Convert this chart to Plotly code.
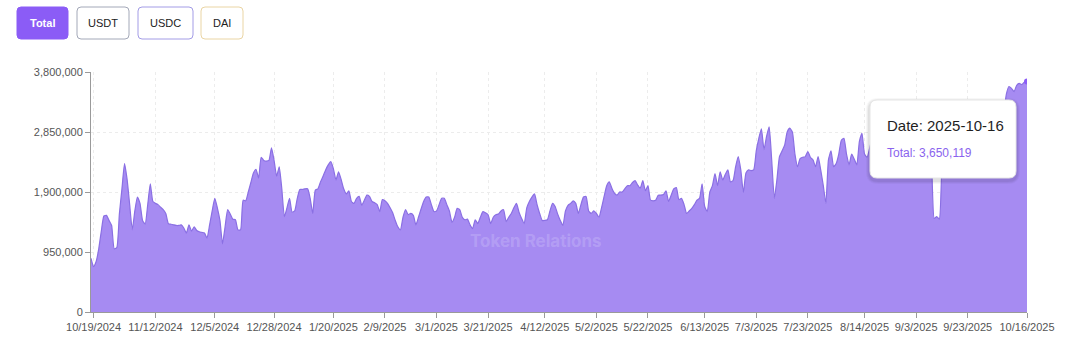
import pandas as pd
import plotly.graph_objects as go

# ---------------- data ----------------
start_date = "2024-10-18"
end_date = "2025-10-16"

total_m = [
    0.85, 0.72, 0.80, 1.00, 1.28, 1.52, 1.53, 1.45, 1.37, 1.00, 1.02, 1.55, 1.95, 2.35, 2.10, 1.70,
    1.30, 1.60, 1.82, 1.72, 1.45, 1.39, 1.70, 2.03, 1.75, 1.72, 1.70, 1.66, 1.62, 1.56, 1.40, 1.39,
    1.38, 1.37, 1.37, 1.38, 1.33, 1.25, 1.38, 1.28, 1.35, 1.29, 1.27, 1.26, 1.25, 1.17, 1.38, 1.60,
    1.80, 1.65, 1.45, 1.08, 1.35, 1.62, 1.55, 1.47, 1.46, 1.30, 1.30, 1.77, 1.76, 1.90, 2.05, 2.20,
    2.26, 2.12, 2.45, 2.40, 2.39, 2.40, 2.60, 2.40, 2.15, 2.30, 1.95, 1.51, 1.65, 1.80, 1.58, 1.60,
    1.80, 1.94, 1.94, 1.95, 1.95, 1.80, 1.56, 1.93, 1.95, 2.06, 2.15, 2.25, 2.33, 2.38, 2.27, 2.09,
    2.22, 2.10, 1.95, 1.87, 1.92, 1.75, 1.72, 1.80, 1.83, 1.69, 1.77, 1.85, 1.83, 1.75, 1.73, 1.70,
    1.59, 1.78, 1.76, 1.72, 1.65, 1.57, 1.45, 1.35, 1.30, 1.50, 1.62, 1.54, 1.56, 1.53, 1.38, 1.50,
    1.63, 1.75, 1.82, 1.82, 1.70, 1.59, 1.60, 1.70, 1.80, 1.80, 1.70, 1.60, 1.42, 1.50, 1.64, 1.62,
    1.50, 1.46, 1.47, 1.38, 1.32, 1.46, 1.40, 1.50, 1.59, 1.57, 1.54, 1.40, 1.50, 1.54, 1.55, 1.60,
    1.62, 1.43, 1.50, 1.56, 1.65, 1.72, 1.58, 1.48, 1.40, 1.65, 1.75, 1.82, 1.87, 1.70, 1.56, 1.45,
    1.45, 1.46, 1.60, 1.72, 1.67, 1.55, 1.45, 1.37, 1.60, 1.69, 1.72, 1.76, 1.72, 1.56, 1.70, 1.82,
    1.83, 1.60, 1.56, 1.60, 1.56, 1.50, 1.65, 1.83, 2.00, 2.06, 1.96, 1.88, 1.85, 1.90, 1.90, 1.95,
    2.00, 2.00, 2.05, 2.08, 2.01, 1.96, 2.08, 1.92, 2.00, 1.77, 1.76, 1.77, 1.85, 1.85, 1.86, 1.92,
    1.75, 1.85, 1.95, 1.97, 1.78, 1.80, 1.70, 1.56, 1.60, 1.64, 1.70, 1.77, 1.80, 2.03, 1.67, 1.59,
    1.90, 2.00, 2.19, 2.00, 2.22, 2.09, 2.18, 2.25, 2.06, 2.08, 2.30, 2.46, 2.25, 1.89, 2.20, 2.25,
    2.24, 2.25, 2.55, 2.75, 2.90, 2.57, 2.78, 2.93, 2.40, 1.80, 2.09, 2.46, 2.55, 2.64, 2.85, 2.91,
    2.85, 2.50, 2.30, 2.43, 2.45, 2.46, 2.54, 2.45, 2.41, 2.30, 2.46, 2.25, 2.00, 1.72, 2.41, 2.55,
    2.30, 2.35, 2.50, 2.72, 2.75, 2.50, 2.33, 2.50, 2.42, 2.33, 2.70, 2.83, 2.50, 2.45, 2.60, 2.75,
    2.55, 2.40, 2.65, 2.80, 2.70, 2.50, 2.60, 2.85, 2.90, 2.70, 2.55, 2.70, 2.80, 2.65, 2.50, 2.70,
    2.85, 2.75, 2.60, 2.70, 2.65, 2.50, 2.30, 1.48, 1.51, 1.47, 2.30, 2.60, 2.75, 2.80, 2.70, 2.85,
    2.95, 2.80, 2.70, 2.90, 3.00, 2.85, 2.75, 2.90, 3.00, 2.95, 2.80, 2.90, 3.05, 3.00, 2.90, 3.05,
    3.10, 3.00, 3.15, 3.45, 3.57, 3.54, 3.49, 3.59, 3.62, 3.60, 3.64, 3.650119,
]

y_ticks = [0, 950000, 1900000, 2850000, 3800000]
x_tick_dates = ["2024-10-19", "2024-11-12", "2024-12-05", "2024-12-28", "2025-01-20", "2025-02-09",
                "2025-03-01", "2025-03-21", "2025-04-12", "2025-05-02", "2025-05-22", "2025-06-13",
                "2025-07-03", "2025-07-23", "2025-08-14", "2025-09-03", "2025-09-23", "2025-10-16"]
buttons = ["Total", "USDT", "USDC", "DAI"]

dates = pd.date_range(start_date, end_date, freq="D")
values = [round(v * 1_000_000) for v in total_m]
assert len(dates) == len(values), (len(dates), len(values))

# ---------------- layout geometry ----------------
W, H = 1070, 345
L, R, T, B = 91, 43, 72, 33
PW, PH = W - L - R, H - T - B


def px(x):
    return (x - L) / PW


def py(y):
    return (H - B - y) / PH


def rrect(x0, y0, x1, y1, r):
    rx, ry = r / PW, r / PH
    a, b, c, d = px(x0), px(x1), py(y0), py(y1)  # c top, d bottom
    return (f"M {a+rx},{c} L {b-rx},{c} Q {b},{c} {b},{c-ry} L {b},{d+ry} Q {b},{d} {b-rx},{d} "
            f"L {a+rx},{d} Q {a},{d} {a},{d+ry} L {a},{c-ry} Q {a},{c} {a+rx},{c} Z")


FONT = "Liberation Sans, Arial, sans-serif"
fig = go.Figure()

fig.add_trace(go.Scatter(
    x=dates, y=values, mode="lines", fill="tozeroy",
    line=dict(color="#8a6fe3", width=1.2, shape="spline", smoothing=0.5),
    fillcolor="#a68bf2", hoverinfo="skip", showlegend=False,
))
fig.add_trace(go.Scatter(
    x=[dates[-1]], y=[values[-1]], mode="markers",
    marker=dict(color="#8b5cf6", size=6), hoverinfo="skip", showlegend=False,
))

shapes = []
annotations = []

# buttons
btn_geom = [(17, 68), (77, 129), (138, 193), (201, 243)]
btn_border = ["#8b5cf6", "#a3a8b8", "#a39ce6", "#ead5a4"]
for name, (x0, x1), bc in zip(buttons, btn_geom, btn_border):
    active = name == "Total"
    shapes.append(dict(type="path", xref="paper", yref="paper", path=rrect(x0, 7, x1, 39, 4),
                       fillcolor="#8b5cf6" if active else "#ffffff",
                       line=dict(color=bc, width=1)))
    annotations.append(dict(x=px((x0 + x1) / 2), y=py(23), xref="paper", yref="paper",
                            text=f"<b>{name}</b>" if active else name, showarrow=False,
                            font=dict(family=FONT, size=11, color="#ffffff" if active else "#222222"),
                            xanchor="center", yanchor="middle"))

# watermark
annotations.append(dict(x=px(536), y=py(241), xref="paper", yref="paper", text="<b>Token Relations</b>",
                        showarrow=False, font=dict(family="Inter, Liberation Sans, sans-serif", size=17,
                                                   color="rgba(255,255,255,0.18)"),
                        xanchor="center", yanchor="middle"))

# tooltip
for i, a in enumerate([0.03, 0.04, 0.05]):
    g = 4 - i
    shapes.append(dict(type="path", xref="paper", yref="paper",
                       path=rrect(870 - g, 100 - g + 2, 1016 + g, 178 + g + 2, 8 + g),
                       fillcolor=f"rgba(0,0,0,{a})", line=dict(width=0)))
shapes.append(dict(type="path", xref="paper", yref="paper", path=rrect(870, 100, 1016, 178, 7),
                   fillcolor="#ffffff", line=dict(color="#e6e6e6", width=1)))
annotations.append(dict(x=px(885), y=py(125), xref="paper", yref="paper",
                        text=f"Date: {dates[-1].strftime('%Y-%m-%d')}", showarrow=False,
                        font=dict(family=FONT, size=15, color="#1f1f1f"),
                        xanchor="left", yanchor="middle"))
annotations.append(dict(x=px(885), y=py(153), xref="paper", yref="paper",
                        text=f"Total: {values[-1]:,}", showarrow=False,
                        font=dict(family=FONT, size=12, color="#8a63ee"),
                        xanchor="left", yanchor="middle"))

tick_text = [pd.Timestamp(d).strftime("%-m/%-d/%Y") for d in x_tick_dates]

fig.update_layout(
    width=W, height=H, margin=dict(l=L, r=R, t=T, b=B),
    paper_bgcolor="#ffffff", plot_bgcolor="#ffffff",
    shapes=shapes, annotations=annotations, showlegend=False,
    font=dict(family=FONT, size=11, color="#666666"),
    xaxis=dict(type="date", range=[dates[0], dates[-1]], tickvals=x_tick_dates, ticktext=tick_text,
               showgrid=True, gridcolor="#ececec", griddash="dot", gridwidth=1,
               showline=True, linecolor="#9a9a9a", linewidth=1,
               ticks="outside", ticklen=5, tickcolor="#9a9a9a",
               tickfont=dict(family=FONT, size=11, color="#555555"), zeroline=False, fixedrange=True),
    yaxis=dict(range=[0, 3800000], tickvals=y_ticks, ticktext=[f"{v:,}" for v in y_ticks],
               showgrid=True, gridcolor="#ececec", griddash="dot", gridwidth=1,
               showline=True, linecolor="#9a9a9a", linewidth=1,
               ticks="outside", ticklen=5, tickcolor="#9a9a9a",
               tickfont=dict(family=FONT, size=11, color="#555555"), zeroline=False, fixedrange=True),
)

fig.write_html("out.html")
